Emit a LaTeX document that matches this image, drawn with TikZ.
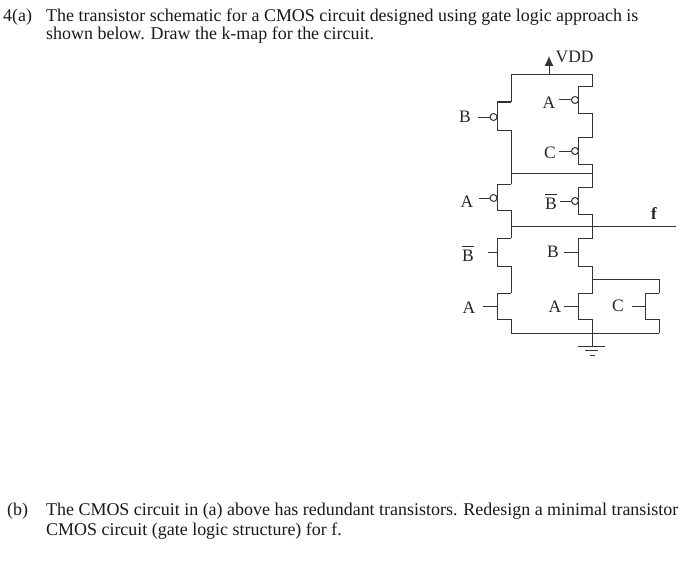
\documentclass[tikz,border=0pt]{standalone}
\usepackage{fontspec}
\setmainfont{Liberation Serif}
\usetikzlibrary{arrows.meta}

\def\Bbar{$\overline{\mbox{B}\rule{0pt}{14pt}}$}

\begin{document}
\begin{tikzpicture}[x = 1pt, y = -1pt, > = {Latex[length = 10pt, width = 9pt]},
	wire/.style = {line width = 1pt, draw = black!80},
	bubble/.style = {circle, draw = black!80, line width = 1pt, inner sep = 0pt, minimum size = 7pt},
	txt/.style = {anchor = base west, inner sep = 0pt, text = black!90, font = \fontsize{17.95}{20}\selectfont},
	lbl/.style = {inner sep = 0pt, text = black!85, font = \fontsize{17.5}{20}\selectfont}]

	\useasboundingbox (0, 0) rectangle (700, 567);

	% Question text

	\node [txt] (qa) at (3, 22) {4(a)};
	\node [txt] (la) at (46, 22) {The transistor schematic for a CMOS circuit designed using gate logic approach is};
	\node [txt] (lb) at (46, 39.5) {shown below. Draw the k-map for the circuit.};
	\node [txt] (qb) at (7, 515) {(b)};
	\node [txt] (lc) at (46, 515) {The CMOS circuit in (a) above has redundant transistors. Redesign a minimal transistor};
	\node [txt] (ld) at (46, 535) {CMOS circuit (gate logic structure) for f.};

	% Draw p transistors (name / x / top / bottom / gate y / stub x / label x / label y / label)

	\foreach \n/\x/\ya/\yb/\g/\s/\lx/\ly/\t in {
		pb/511/102/130/117/478/465/117/B,
		pa/592.5/87/113/100/559/549/103/A,
		pc/592.5/137/164/151/559/550/153/C,
		pd/511/184/210/198/479/467/202/A,
		pe/592.5/187/214/201/560/551/201.5/\Bbar}
	{
		\coordinate (\n t) at (\x, \ya);
		\coordinate (\n o) at (\x, \yb);
		\draw [wire] (\n t) -- ++(-14, 0) -- ++(0, {\yb - \ya}) -- (\n o);
		\node [bubble] (\n g) at ({\x - 17.5}, \g) {};
		\coordinate (\n s) at (\s, \g);
		\draw [wire] (\n s) -- (\n g);
		\node [lbl] (\n l) at (\lx, \ly) {\t};
	}

	% Draw n transistors

	\foreach \n/\x/\ya/\yb/\g/\s/\lx/\ly/\t in {
		na/511/238/266/252/488/468/253.5/\Bbar,
		nb/511/293/319/306/483/469/308/A,
		nc/592.5/238/266/252/564/553/252/B,
		nd/592.5/293/319/306/564/555/307/A,
		ne/659/293/319/306/632/618/306/C}
	{
		\coordinate (\n t) at (\x, \ya);
		\coordinate (\n o) at (\x, \yb);
		\draw [wire] (\n t) -- ++(-14, 0) -- ++(0, {\yb - \ya}) -- (\n o);
		\coordinate (\n g) at ({\x - 14}, \g);
		\coordinate (\n s) at (\s, \g);
		\draw [wire] (\n s) -- (\n g);
		\node [lbl] (\n l) at (\lx, \ly) {\t};
	}

	% Rails

	\coordinate (vl) at (511, 75);
	\coordinate (vm) at (549, 75);
	\coordinate (vr) at (592.5, 75);
	\coordinate (vtip) at (549, 56);
	\coordinate (ml) at (511, 173);
	\coordinate (mr) at (592.5, 173);
	\coordinate (fl) at (511, 226);
	\coordinate (fm) at (592.5, 226);
	\coordinate (fr) at (676, 226);
	\coordinate (tap) at (592.5, 279);
	\coordinate (tapr) at (659, 279);
	\coordinate (gl) at (511, 333);
	\coordinate (gm) at (592.5, 333);
	\coordinate (gr) at (659, 333);
	\coordinate (gnd) at (592.5, 346);

	\draw [wire] (vl) -- (vr);
	\draw [wire] (ml) -- (mr);
	\draw [wire] (fl) -- (fr);
	\draw [wire] (gl) -- (gr);
	\draw [wire, ->] (vm) -- (vtip);
	\node [lbl, anchor = west] (vdd) at (555.5, 57) {VDD};
	\node [lbl, font = \fontsize{17}{20}\selectfont\bfseries] (f) at (654, 214) {f};

	% Vertical wires

	\draw [wire] (vl) -- (pbt);
	\draw [wire] (pbo) -- (ml) -- (pdt);
	\draw [wire] (pdo) -- (fl) -- (nat);
	\draw [wire] (nao) -- (nbt);
	\draw [wire] (nbo) -- (gl);
	\draw [wire] (vr) -- (pat);
	\draw [wire] (pao) -- (pct);
	\draw [wire] (pco) -- (mr) -- (pet);
	\draw [wire] (peo) -- (fm) -- (nct);
	\draw [wire] (nco) -- (tap) -- (ndt);
	\draw [wire] (ndo) -- (gm) -- (gnd);
	\draw [wire] (tap) -- (tapr) -- (net);
	\draw [wire] (neo) -- (gr);

	% Draw ground

	\draw [wire] (578, 346) -- (605, 346);
	\draw [wire] (585, 350.5) -- (598, 350.5);
	\draw [wire] (590, 355) -- (595, 355);

\end{tikzpicture}
\end{document}
